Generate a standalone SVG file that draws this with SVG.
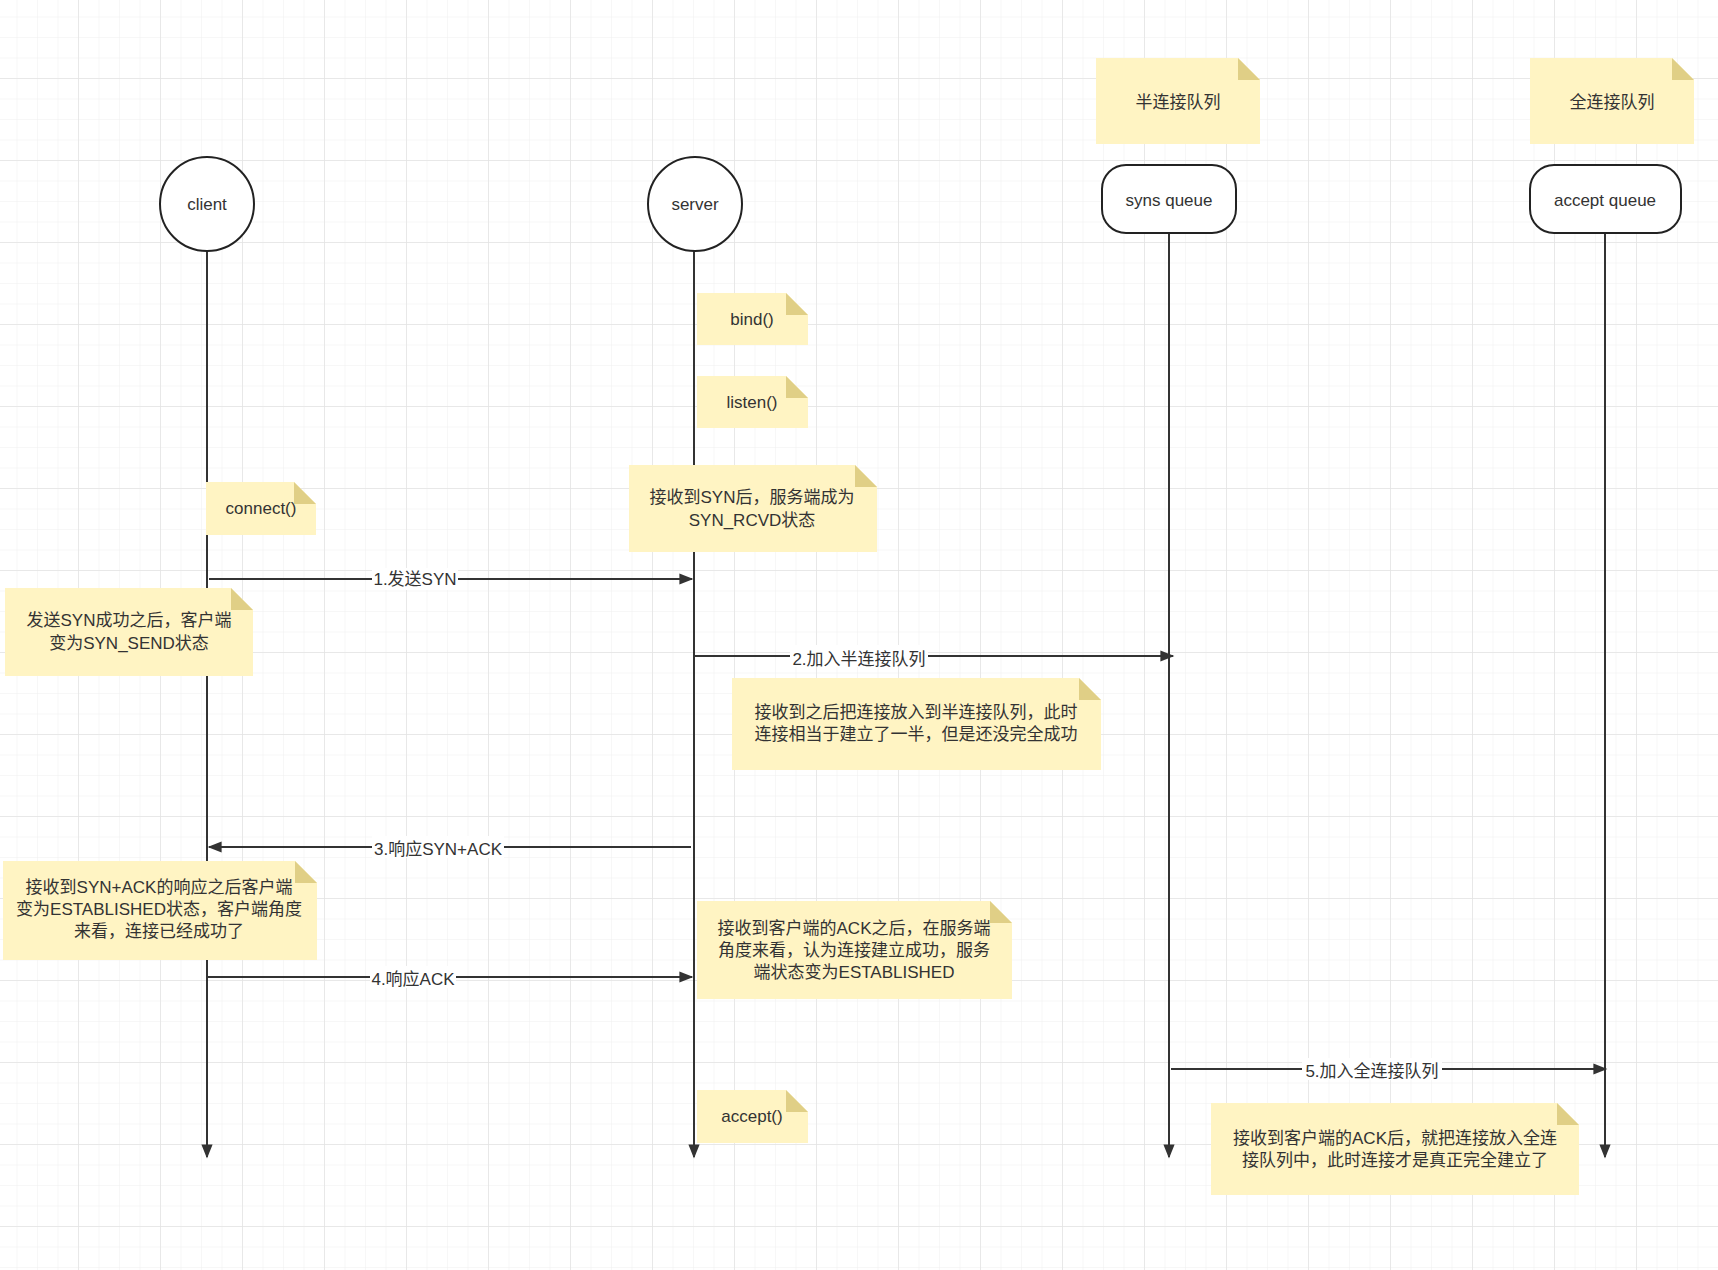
<svg xmlns="http://www.w3.org/2000/svg" width="1718" height="1270" viewBox="0 0 1718 1270">
<defs>
<pattern id="gmin" width="20.5" height="20.5" patternUnits="userSpaceOnUse" x="-3" y="-3"><path d="M20.5 0V20.5H0" fill="none" stroke="#f0f0f0" stroke-width="1"/></pattern>
<pattern id="gmaj" width="82" height="82" patternUnits="userSpaceOnUse" x="-3" y="-3"><path d="M82 0V82H0" fill="none" stroke="#e4e4e4" stroke-width="1.5"/></pattern>
<marker id="ah" viewBox="0 0 10 10" refX="9" refY="5" markerWidth="10" markerHeight="10" markerUnits="userSpaceOnUse" orient="auto"><path d="M0 1L10 5L0 9Z" fill="#333"/></marker>
<marker id="ah2" viewBox="0 0 10 10" refX="9" refY="5" markerWidth="18" markerHeight="14" markerUnits="userSpaceOnUse" orient="auto"><path d="M0 1L10 5L0 9Z" fill="#333"/></marker>
</defs>
<style>
text{font-family:"Liberation Sans","Noto Sans CJK SC",sans-serif;font-size:17px;fill:#333;text-anchor:middle}
.note{fill:#fff4c3}
.fold{fill:#e0cf86}
.ln{stroke:#333;stroke-width:2;fill:none}
.lbl{fill:#fff}
</style>
<rect width="1718" height="1270" fill="#fff"/>
<rect width="1718" height="1270" fill="url(#gmin)"/>
<rect width="1718" height="1270" fill="url(#gmaj)"/>

<g id="connectors">
<path class="ln" d="M207 251V1157" marker-end="url(#ah2)"/>
<path class="ln" d="M694 251V1157" marker-end="url(#ah2)"/>
<path class="ln" d="M1169 233V1157" marker-end="url(#ah2)"/>
<path class="ln" d="M1605 233V1157" marker-end="url(#ah2)"/>
<path class="ln" d="M209 579H692" marker-end="url(#ah2)"/>
<rect class="lbl" x="372" y="568" width="86" height="22"/><text x="415" y="585">1.发送SYN</text>
<path class="ln" d="M695 656H1173" marker-end="url(#ah2)"/>
<rect class="lbl" x="790" y="645" width="138" height="22"/><text x="859" y="665">2.加入半连接队列</text>
<path class="ln" d="M691 847H209" marker-end="url(#ah2)"/>
<rect class="lbl" x="372" y="836" width="132" height="22"/><text x="438" y="855">3.响应SYN+ACK</text>
<path class="ln" d="M208 977H692" marker-end="url(#ah2)"/>
<rect class="lbl" x="370" y="966" width="86" height="22"/><text x="413" y="985">4.响应ACK</text>
<path class="ln" d="M1171 1069H1606" marker-end="url(#ah2)"/>
<rect class="lbl" x="1302" y="1058" width="140" height="22"/><text x="1372" y="1077">5.加入全连接队列</text>
</g>

<g id="client"><circle cx="207" cy="204" r="47" fill="#fff" stroke="#222" stroke-width="2"/><text x="207" y="210">client</text></g>
<g id="server"><circle cx="695" cy="204" r="47" fill="#fff" stroke="#222" stroke-width="2"/><text x="695" y="210">server</text></g>
<g id="syns"><rect x="1102" y="165" width="134" height="68" rx="24" fill="#fff" stroke="#222" stroke-width="2"/><text x="1169" y="206">syns queue</text></g>
<g id="accept"><rect x="1530" y="165" width="151" height="68" rx="24" fill="#fff" stroke="#222" stroke-width="2"/><text x="1605" y="206">accept queue</text></g>

<g id="note-half"><path class="note" d="M1096 58H1238L1260 80V144H1096Z"/><path class="fold" d="M1238 58L1260 80H1238Z"/><text x="1178" y="108">半连接队列</text></g>
<g id="note-full"><path class="note" d="M1530 58H1672L1694 80V144H1530Z"/><path class="fold" d="M1672 58L1694 80H1672Z"/><text x="1612" y="108">全连接队列</text></g>
<g id="note-bind"><path class="note" d="M697 293H786L808 315V345H697Z"/><path class="fold" d="M786 293L808 315H786Z"/><text x="752" y="325">bind()</text></g>
<g id="note-listen"><path class="note" d="M697 376H786L808 398V428H697Z"/><path class="fold" d="M786 376L808 398H786Z"/><text x="752" y="408">listen()</text></g>
<g id="note-connect"><path class="note" d="M206 482H294L316 504V535H206Z"/><path class="fold" d="M294 482L316 504H294Z"/><text x="261" y="514">connect()</text></g>
<g id="note-rcvd"><path class="note" d="M629 465H855L877 487V552H629Z"/><path class="fold" d="M855 465L877 487H855Z"/><text x="752" y="503">接收到SYN后，服务端成为</text><text x="752" y="526">SYN_RCVD状态</text></g>
<g id="note-send"><path class="note" d="M5 588H231L253 610V676H5Z"/><path class="fold" d="M231 588L253 610H231Z"/><text x="129" y="626">发送SYN成功之后，客户端</text><text x="129" y="649">变为SYN_SEND状态</text></g>
<g id="note-halfq"><path class="note" d="M732 678H1079L1101 700V770H732Z"/><path class="fold" d="M1079 678L1101 700H1079Z"/><text x="916" y="718">接收到之后把连接放入到半连接队列，此时</text><text x="916" y="740">连接相当于建立了一半，但是还没完全成功</text></g>
<g id="note-cest"><path class="note" d="M3 861H295L317 883V960H3Z"/><path class="fold" d="M295 861L317 883H295Z"/><text x="159" y="893">接收到SYN+ACK的响应之后客户端</text><text x="159" y="915">变为ESTABLISHED状态，客户端角度</text><text x="159" y="937">来看，连接已经成功了</text></g>
<g id="note-sest"><path class="note" d="M697 901H990L1012 923V999H697Z"/><path class="fold" d="M990 901L1012 923H990Z"/><text x="854" y="934">接收到客户端的ACK之后，在服务端</text><text x="854" y="956">角度来看，认为连接建立成功，服务</text><text x="854" y="978">端状态变为ESTABLISHED</text></g>
<g id="note-accept"><path class="note" d="M697 1090H786L808 1112V1143H697Z"/><path class="fold" d="M786 1090L808 1112H786Z"/><text x="752" y="1122">accept()</text></g>
<g id="note-fullq"><path class="note" d="M1211 1103H1557L1579 1125V1195H1211Z"/><path class="fold" d="M1557 1103L1579 1125H1557Z"/><text x="1395" y="1144">接收到客户端的ACK后，就把连接放入全连</text><text x="1395" y="1166">接队列中，此时连接才是真正完全建立了</text></g>
</svg>
